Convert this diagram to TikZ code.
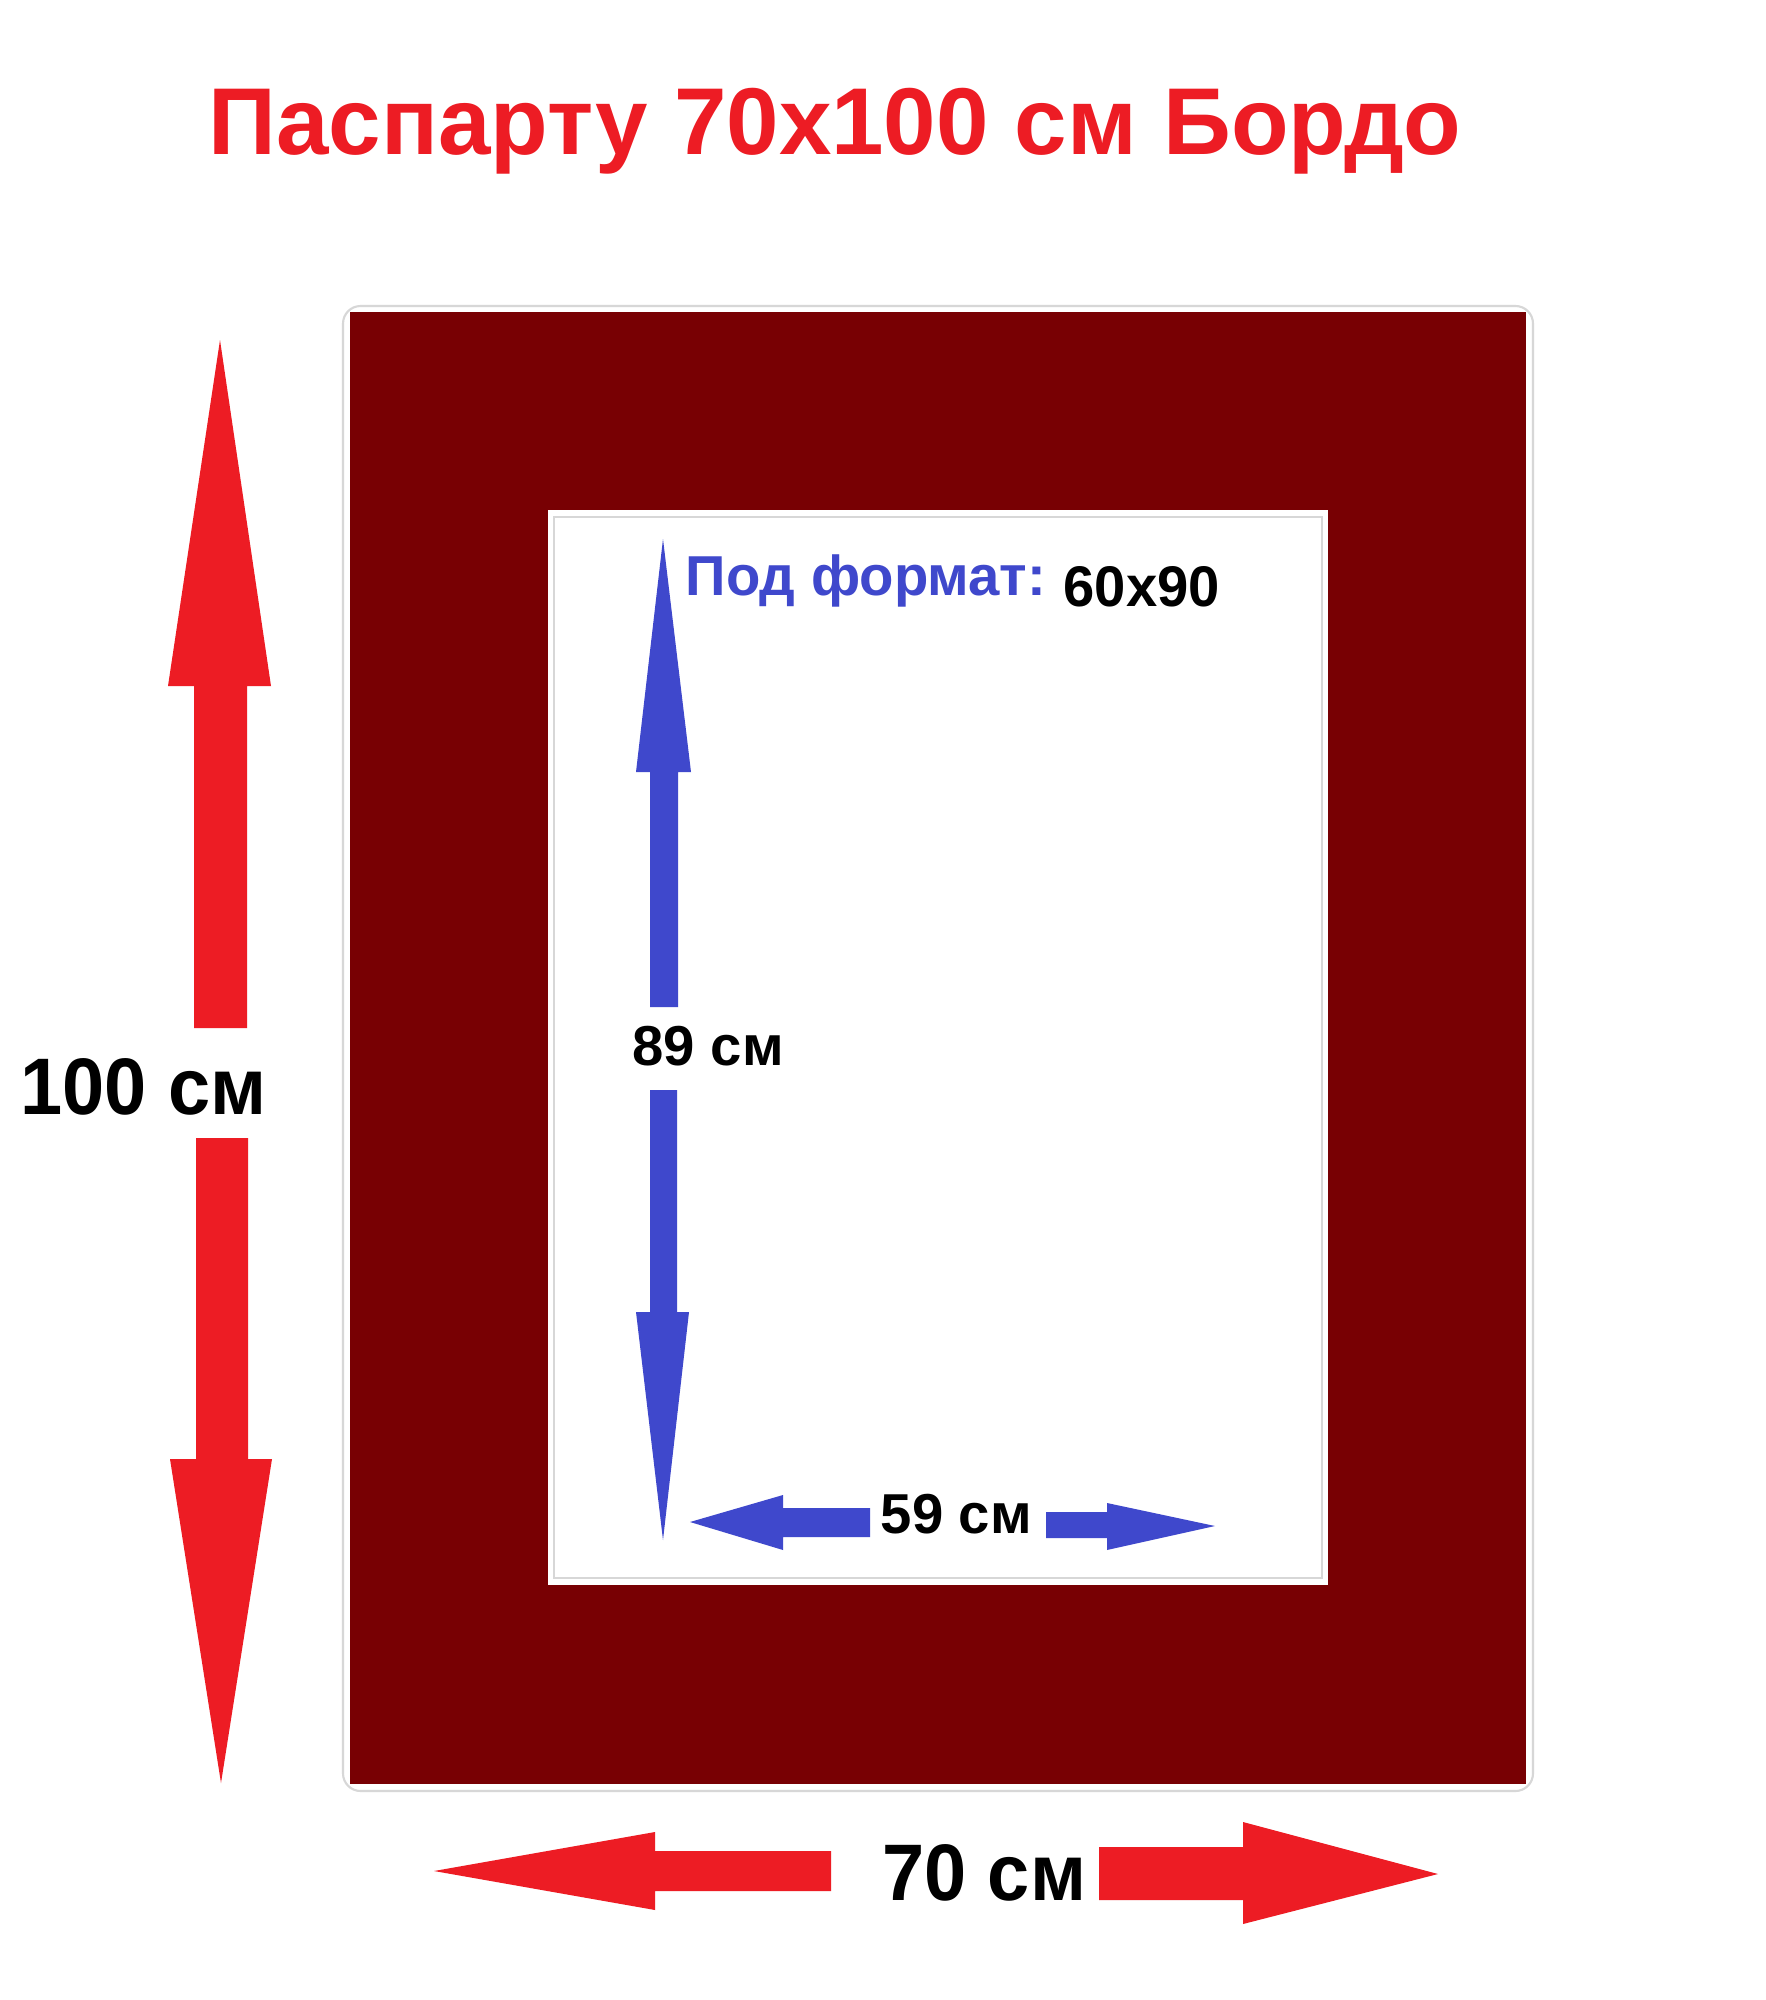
\documentclass[tikz,border=0pt]{standalone}
\usepackage{graphicx}
\usepackage{fontspec}
\setmainfont{Liberation Sans}
\definecolor{arrred}{RGB}{237,28,36}
\definecolor{arrblue}{RGB}{63,72,204}
\definecolor{bordo}{RGB}{120,0,3}
\definecolor{edge}{RGB}{215,215,215}
\tikzset{
  lbl/.style={inner sep=0pt, anchor=base west, font=\bfseries},
  redarrow/.style={fill=arrred, draw=none},
  bluearrow/.style={fill=arrblue, draw=none},
}
\begin{document}
\begin{tikzpicture}[x=0.01cm,y=-0.01cm]
\useasboundingbox[fill=white] (0,0) rectangle (1765,2000);
% frame
\draw[edge, line width=0.6pt, rounded corners=5] (343,306) rectangle (1533,1791);
\fill[bordo] (350,312) rectangle (1526,1784);
\fill[white] (548,510) rectangle (1328,1585);
\draw[edge, line width=0.6pt] (554,517) rectangle (1322,1578);
% title
\node[lbl, text=arrred, font=\fontsize{27}{32}\selectfont\bfseries] (title) at (208,155) {\scalebox{0.993}[1]{Паспарту 70x100 см Бордо}};
% red vertical arrow
\fill[redarrow] (220,340) -- (271,686) -- (247,686) -- (247,1028) -- (194,1028) -- (194,686) -- (168,686) -- cycle;
\fill[redarrow] (196,1138) -- (248,1138) -- (248,1459) -- (272,1459) -- (221,1783) -- (170,1459) -- (196,1459) -- cycle;
\node[lbl, font=\fontsize{22.8}{26}\selectfont\bfseries] (h) at (20,1114) {\scalebox{0.945}[1]{100 см}};
% red horizontal arrow
\fill[redarrow] (434,1871) -- (655,1832) -- (655,1851) -- (831,1851) -- (831,1891) -- (655,1891) -- (655,1910) -- cycle;
\fill[redarrow] (1099,1847) -- (1243,1847) -- (1243,1822) -- (1438,1874) -- (1243,1924) -- (1243,1900) -- (1099,1900) -- cycle;
\node[lbl, font=\fontsize{22.8}{26}\selectfont\bfseries] (w) at (882,1900) {\scalebox{0.945}[1]{70 см}};
% blue vertical arrow
\fill[bluearrow] (663,539) -- (691,772) -- (678,772) -- (678,1007) -- (650,1007) -- (650,772) -- (636,772) -- cycle;
\fill[bluearrow] (650,1090) -- (677,1090) -- (677,1312) -- (689,1312) -- (663,1540) -- (636,1312) -- (650,1312) -- cycle;
\node[lbl, font=\fontsize{16}{19}\selectfont\bfseries] (ih) at (632,1065) {89 см};
% blue horizontal arrow
\fill[bluearrow] (690,1522) -- (783,1495) -- (783,1508) -- (870,1508) -- (870,1537) -- (783,1537) -- (783,1550) -- cycle;
\fill[bluearrow] (1046,1512) -- (1107,1512) -- (1107,1503) -- (1215,1526) -- (1107,1550) -- (1107,1538) -- (1046,1538) -- cycle;
\node[lbl, font=\fontsize{16}{19}\selectfont\bfseries] (iw) at (880,1533) {59 см};
% format label
\node[lbl, text=arrblue, font=\fontsize{16}{19}\selectfont\bfseries] (fmt) at (685,595) {Под формат:};
\node[lbl, font=\fontsize{16.3}{19}\selectfont\bfseries] (fmtv) at (1063,606) {\scalebox{0.98}[1]{60x90}};
\end{tikzpicture}
\end{document}
